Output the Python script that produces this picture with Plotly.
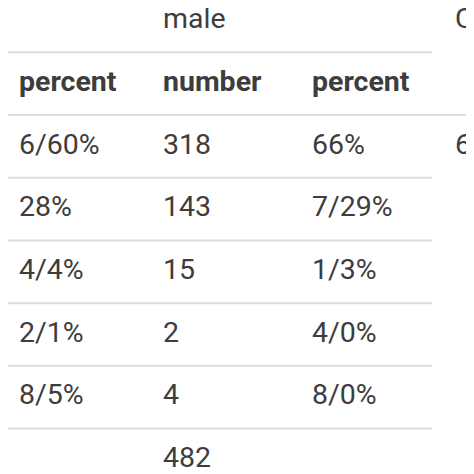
import plotly.graph_objects as go

group_labels = ["", "male", "", "C"]
headers = ["percent", "number", "percent", ""]
col1 = ["6/60%", "28%", "4/4%", "2/1%", "8/5%", ""]
col2 = ["318", "143", "15", "2", "4", "482"]
col3 = ["66%", "7/29%", "1/3%", "4/0%", "8/0%", ""]
col4 = ["6%", "", "", "", "", ""]

col_x = [11, 155, 304, 447]
pitch = 62.7
top = 13

fig = go.Figure()
color = "#3d3d3d"
font = "Roboto"
fs = 28.5

def add_row(texts, row, bold=False):
    xs, ys, ts = [], [], []
    for x, t in zip(col_x, texts):
        if t:
            xs.append(x); ys.append(row); ts.append(f"<b>{t}</b>" if bold else t)
    fig.add_trace(go.Scatter(x=xs, y=ys, text=ts, mode="text", textposition="middle right",
                             textfont=dict(family=font, size=fs, color=color),
                             hoverinfo="skip", showlegend=False, cliponaxis=False))

add_row(group_labels, 0)
add_row(headers, 1, bold=True)
for i in range(6):
    add_row([col1[i], col2[i], col3[i], col4[i]], 2 + i)

for b in range(7):
    x1 = 474 if b == 1 else 424
    fig.add_shape(type="line", x0=0, x1=x1, y0=b + 0.5, y1=b + 0.5,
                  line=dict(color="#dcdcdc", width=2))

fig.update_xaxes(range=[0, 474], visible=False, fixedrange=True)
fig.update_yaxes(range=[(474 - top) / pitch, -top / pitch], visible=False, fixedrange=True)
fig.update_layout(width=474, height=474, margin=dict(l=0, r=0, t=0, b=0),
                  paper_bgcolor="white", plot_bgcolor="white")
fig.write_html("out.html")
